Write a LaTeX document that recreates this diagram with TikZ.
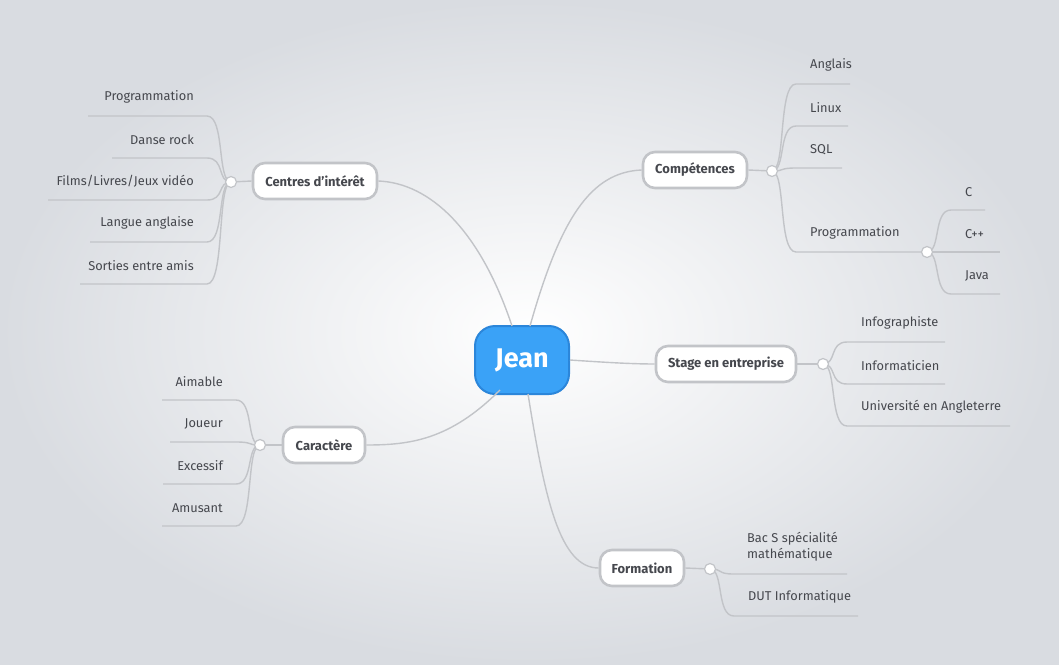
\documentclass[tikz,border=0pt]{standalone}
\usepackage{fontspec}
\setmainfont{Fira Sans}
\definecolor{lc}{HTML}{C2C4C8}
\definecolor{tc}{HTML}{45474D}
\definecolor{jb}{HTML}{3AA2F7}
\definecolor{jd}{HTML}{2B86DA}
\definecolor{bgo}{HTML}{D9DCE1}
\begin{document}
\begin{tikzpicture}[x=1pt,y=-1pt,
  conn/.style={draw=lc,line width=1.4pt},
  branch/.style={draw=lc,line width=2.6pt,fill=white,rounded corners=12pt,minimum height=36pt,font=\bfseries\fontsize{13}{15}\selectfont,text=tc,inner sep=6pt},
  knob/.style={circle,draw=lc,line width=1.2pt,fill=white,minimum size=11pt,inner sep=0pt},
  lt/.style={font=\fontsize{12.8}{16}\selectfont,text=tc,inner sep=0pt}]
\shade[inner color=white,outer color=bgo] (0,0) rectangle (1059,664);
\useasboundingbox (0,0) rectangle (1059,664);
\newcommand\rleaf[5]{% cx cy y xend text
  \draw[conn] (#1,#2) .. controls ({#1+14},#2) and ({#1+6},#3) .. ({#1+24},#3) -- (#4,#3);
  \node[lt,anchor=south west,align=left] (n#3#1) at ({#1+38},{#3-13}) {#5};}
\newcommand\lleaf[5]{%
  \draw[conn] (#1,#2) .. controls ({#1-14},#2) and ({#1-6},#3) .. ({#1-24},#3) -- (#4,#3);
  \node[lt,anchor=south east] (m#3#1) at ({#1-37},{#3-13}) {#5};}
\node[draw=jd,line width=2pt,fill=jb,rounded corners=20pt,minimum width=94pt,minimum height=68pt,text=white,font=\bfseries\fontsize{27}{30}\selectfont] (jean) at (522,360) {Jean};
\node[branch,minimum width=104pt] (comp) at (695,170) {Compétences};
\node[branch,minimum width=140pt] (stage) at (726,364) {Stage en entreprise};
\node[branch,minimum width=84pt] (form) at (642,568) {Formation};
\node[branch,minimum width=124pt] (cent) at (315,181) {Centres d’intérêt};
\node[branch,minimum width=82pt] (car) at (324,445) {Caractère};
\draw[conn] (530,326) .. controls (560,220) and (590,172) .. (comp.west);
\draw[conn] (jean.east) .. controls (600,362) and (630,364) .. (stage.west);
\draw[conn] (528,394) .. controls (545,500) and (560,568) .. (form.west);
\draw[conn] (512,326) .. controls (480,230) and (430,183) .. (cent.east);
\draw[conn] (500,390) .. controls (450,440) and (410,445) .. (car.east);
\draw[conn] (comp.east) -- (772,171);
\draw[conn] (stage.east) -- (823,364);
\draw[conn] (form.east) -- (710,569);
\draw[conn] (cent.west) -- (231,182);
\draw[conn] (car.west) -- (260,445);
\rleaf{772}{171}{84}{850}{Anglais}
\rleaf{772}{171}{126}{848}{Linux}
\rleaf{772}{171}{168}{842}{SQL}
\rleaf{772}{171}{252}{927}{Programmation}
\rleaf{927}{252}{210}{985}{C}
\rleaf{927}{252}{252}{1000}{C++}
\rleaf{927}{252}{294}{1000}{Java}
\rleaf{823}{364}{342}{945}{Infographiste}
\rleaf{823}{364}{384}{945}{Informaticien}
\rleaf{823}{364}{426}{1010}{Université en Angleterre}
\draw[conn] (710,569) .. controls (724,569) and (716,574) .. (734,574) -- (847,574);
\node[lt,anchor=south west,align=left] (bac) at (747,561) {Bac S spécialité\\mathématique};
\rleaf{710}{569}{616}{858}{DUT Informatique}
\lleaf{231}{182}{116}{88}{Programmation}
\lleaf{231}{182}{158}{112}{Danse rock}
\lleaf{231}{182}{200}{48}{Films/Livres/Jeux vidéo}
\lleaf{231}{182}{242}{90}{Langue anglaise}
\lleaf{231}{182}{284}{80}{Sorties entre amis}
\lleaf{260}{445}{400}{162}{Aimable}
\lleaf{260}{445}{442}{170}{Joueur}
\lleaf{260}{445}{484}{163}{Excessif}
\lleaf{260}{445}{526}{162}{Amusant}
\node[knob] (k1) at (772,171) {};
\node[knob] (k2) at (927,252) {};
\node[knob] (k3) at (823,364) {};
\node[knob] (k4) at (710,569) {};
\node[knob] (k5) at (231,182) {};
\node[knob] (k6) at (260,445) {};
\end{tikzpicture}
\end{document}
